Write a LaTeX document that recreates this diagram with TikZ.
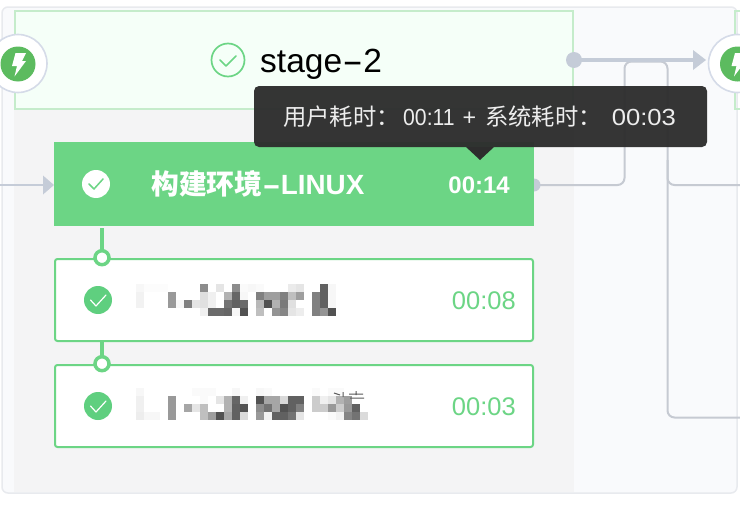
\documentclass[tikz,border=0pt]{standalone}
\usepackage{fontspec}
\setmainfont{Liberation Sans}
\newfontfamily\cjk{Noto Sans CJK SC}
\definecolor{panelbg}{HTML}{F9FAFC}
\definecolor{panelln}{HTML}{E8EAEE}
\definecolor{stagebg}{HTML}{F4F4F5}
\definecolor{headbg}{HTML}{F5FFF8}
\definecolor{headln}{HTML}{C5ECCB}
\definecolor{okgreen}{HTML}{6CD585}
\definecolor{okdark}{HTML}{5FCF7F}
\definecolor{boltgreen}{HTML}{5CBB5F}
\definecolor{conn}{HTML}{C5CCD8}
\definecolor{connb}{HTML}{C6CAD2}
\definecolor{ringln}{HTML}{D5DBE8}
\definecolor{tipbg}{HTML}{2D2D2D}
\definecolor{tiptx}{HTML}{EDEDED}
\tikzset{
  x=1pt,y=-1pt,
  jobbox/.style={draw=okgreen,line width=2pt,fill=white,rounded corners=2.5pt,minimum width=478pt,minimum height=82pt,anchor=north west,inner sep=0pt,outer sep=0pt},
  ring/.style={circle,draw=ringln,line width=1.6pt,fill=white,minimum size=58pt,inner sep=0pt},
  bolt/.style={circle,fill=boltgreen,minimum size=35pt,inner sep=0pt},
  linkdot/.style={circle,draw=okgreen,line width=3.5pt,fill=white,minimum size=14pt,inner sep=0pt},
  timetx/.style={text=okgreen,font=\fontsize{25.5}{25.5}\selectfont,anchor=base east,inner sep=0pt},
  flow/.style={draw=connb,line width=2pt,rounded corners=7pt},
  tick/.style={line width=1.5pt,line cap=round,line join=round},
}
\newcommand{\pix}[4]{\fill[black!#4] ({#1+8*#2},#3) rectangle ++(8,8);}
\newcommand{\boltshape}[2]{\fill[white] ({#1-2.5},{#2-11}) -- ({#1+8},{#2-11}) -- ({#1+4},{#2-3}) -- ({#1+8},{#2-3}) -- ({#1-3.5},{#2+12.5}) -- ({#1-1},{#2+2}) -- ({#1-6},{#2+2}) -- cycle;}
\newcommand{\longdash}[1]{\scalebox{#1}[1]{-}}
\begin{document}
\begin{tikzpicture}
\useasboundingbox (0,0) rectangle (740,506);
\fill[white] (0,0) rectangle (740,506);
% panel
\draw[panelln,line width=1.5pt,fill=panelbg,rounded corners=6pt] (2,7) rectangle (737,493);
\fill[stagebg] (14,109) rectangle (574,492);
\fill[headbg] (15,11) rectangle (573,109);
\draw[headln,line width=1.5pt] (15,11) rectangle (573,109);
\draw[headln,line width=1.5pt] (740,11) -- (735,11) -- (735,109) -- (740,109);
% connectors
\coordinate (jobout) at (534,185);
\coordinate (endA) at (740,185);
\coordinate (endB) at (740,417.5);
\coordinate (inL) at (0,185);
\coordinate (stageout) at (574,60);
\draw[flow] (jobout) -- (624.5,185) -- (624.5,61.5) -- (667.5,61.5) -- (667.5,417.5) -- (endB);
\draw[flow] (667.5,160) -- (667.5,185) -- (endA);
\fill[conn] (jobout) circle (6.5);
\draw[conn,line width=2pt] (inL) -- (46,185);
\fill[conn] (43,175.5) -- (54,185) -- (43,194.5) -- cycle;
\fill[conn] (stageout) circle (8);
\draw[conn,line width=4pt] (stageout) -- (696,60);
\fill[conn] (693,50) -- (706,60) -- (693,70) -- cycle;
% lightning nodes
\node[ring] (boltL) at (18,63.5) {};
\node[bolt] at (18,64) {};
\boltshape{18}{64}
\node[ring] (boltR) at (737.5,63.5) {};
\node[bolt] at (737.5,64) {};
\boltshape{737.5}{64}
% stage title
\node[circle,draw=okgreen,line width=1.7pt,minimum size=33pt,inner sep=0pt] (stagecheck) at (228,60) {};
\draw[okgreen,tick] (220,60) -- (226,66) -- (236,56);
\node[anchor=base west,inner sep=0pt,font=\fontsize{33.5}{33.5}\selectfont,text=black] (stagename) at (260,72) {stage\longdash{1.9}2};
% job head
\fill[okgreen] (54,142) rectangle (534,226);
\node[circle,fill=white,minimum size=28pt,inner sep=0pt] (headcheck) at (96,184) {};
\draw[okgreen,tick] (89,184) -- (94,189) -- (103,179);
\node[anchor=base west,inner sep=0pt,text=white,font=\bfseries\fontsize{27.8}{27.8}\selectfont] (headname) at (151,194.5) {{\cjk\bfseries 构建环境}\longdash{2}LINUX};
\node[anchor=base east,inner sep=0pt,text=white,font=\bfseries\fontsize{24}{24}\selectfont] (headtime) at (510,193.3) {00:14};
% jobs
\node[jobbox] (jobA) at (55,259) {};
\node[jobbox] (jobB) at (55,365) {};
\draw[okgreen,line width=4pt] (102,228) -- (102,252);
\draw[okgreen,line width=4pt] (102,341) -- (102,358);
\node[linkdot] (dotA) at (102,257.7) {};
\node[linkdot] (dotB) at (102,363.7) {};
\node[circle,fill=okdark,minimum size=28pt,inner sep=0pt] (iconA) at (98,300) {};
\draw[white,line width=1.2pt,line cap=round,line join=round] (90.5,300) -- (96,306) -- (106,295);
\node[circle,fill=okdark,minimum size=28pt,inner sep=0pt] (iconB) at (98,406) {};
\draw[white,line width=1.2pt,line cap=round,line join=round] (90.5,406) -- (96,412) -- (106,401);
\node[timetx] (timeA) at (516,309.5) {00:08};
\node[timetx] (timeB) at (516,415.5) {00:03};
% blurred name 1
\foreach \c/\v in {0/3,1/1,2/1,3/1,8/45,10/10,12/45,13/2,14/3,15/2,19/8,20/10,23/62,24/3}{\pix{136}{\c}{284}{\v}}
\foreach \c/\v in {0/5,4/40,8/13,9/6,11/30,12/60,13/3,15/50,16/38,17/38,18/50,19/25,20/38,22/50,23/62,24/3}{\pix{136}{\c}{292}{\v}}
\foreach \c/\v in {0/5,4/40,5/3,6/50,7/10,8/12,9/6,11/55,12/62,13/58,15/28,16/68,17/30,18/52,19/12,22/50,23/62,24/3}{\pix{136}{\c}{300}{\v}}
\foreach \c/\v in {8/6,9/58,10/58,11/60,12/3,13/68,15/25,17/42,18/48,19/10,20/7,22/50,23/42,24/68}{\pix{136}{\c}{308}{\v}}
% blurred name 2
\foreach \c/\v in {0/3,7/2,8/2,9/2,12/3,15/3,16/2,22/2,24/2,25/2}{\pix{136}{\c}{388}{\v}}
\foreach \c/\v in {0/6,4/40,8/2,10/10,11/30,12/60,13/6,15/68,16/35,17/35,18/15,19/62,20/62,22/20,23/6,24/10,25/30,26/38}{\pix{136}{\c}{396}{\v}}
\foreach \c/\v in {0/6,4/40,6/35,7/10,8/25,11/30,12/62,13/68,15/45,16/55,17/35,18/68,19/62,20/50,22/20,23/20,24/40,25/20,26/40,27/62}{\pix{136}{\c}{404}{\v}}
\foreach \c/\v in {0/7,1/3,2/3,4/40,8/25,9/38,10/68,11/35,12/62,13/14,15/40,16/5,17/62,18/62,19/55,20/10,24/2,25/5,26/48,27/55,28/14}{\pix{136}{\c}{412}{\v}}
\draw[black!65,line width=1pt] (334,393) -- (340,395) (343,392) -- (343,397) (349,394) -- (363,394) (356,391) -- (356,395) (350,398) -- (364,398);
% tooltip
\fill[tipbg,opacity=.96,rounded corners=5pt] (254,86) rectangle (707,147);
\fill[tipbg] (466,147) -- (494,147) -- (480,160) -- cycle;
\node[anchor=base west,inner sep=0pt,text=tiptx,font=\fontsize{23.3}{23.3}\selectfont] (tiptext) at (283,125) {{\cjk 用户耗时：}\hspace{3.5pt}\scalebox{.91}[1]{00:11}\hspace{8pt}+\hspace{9pt}{\cjk 系统耗时：}\hspace{10pt}\scalebox{1.1}[1]{00:03}};
\end{tikzpicture}
\end{document}
